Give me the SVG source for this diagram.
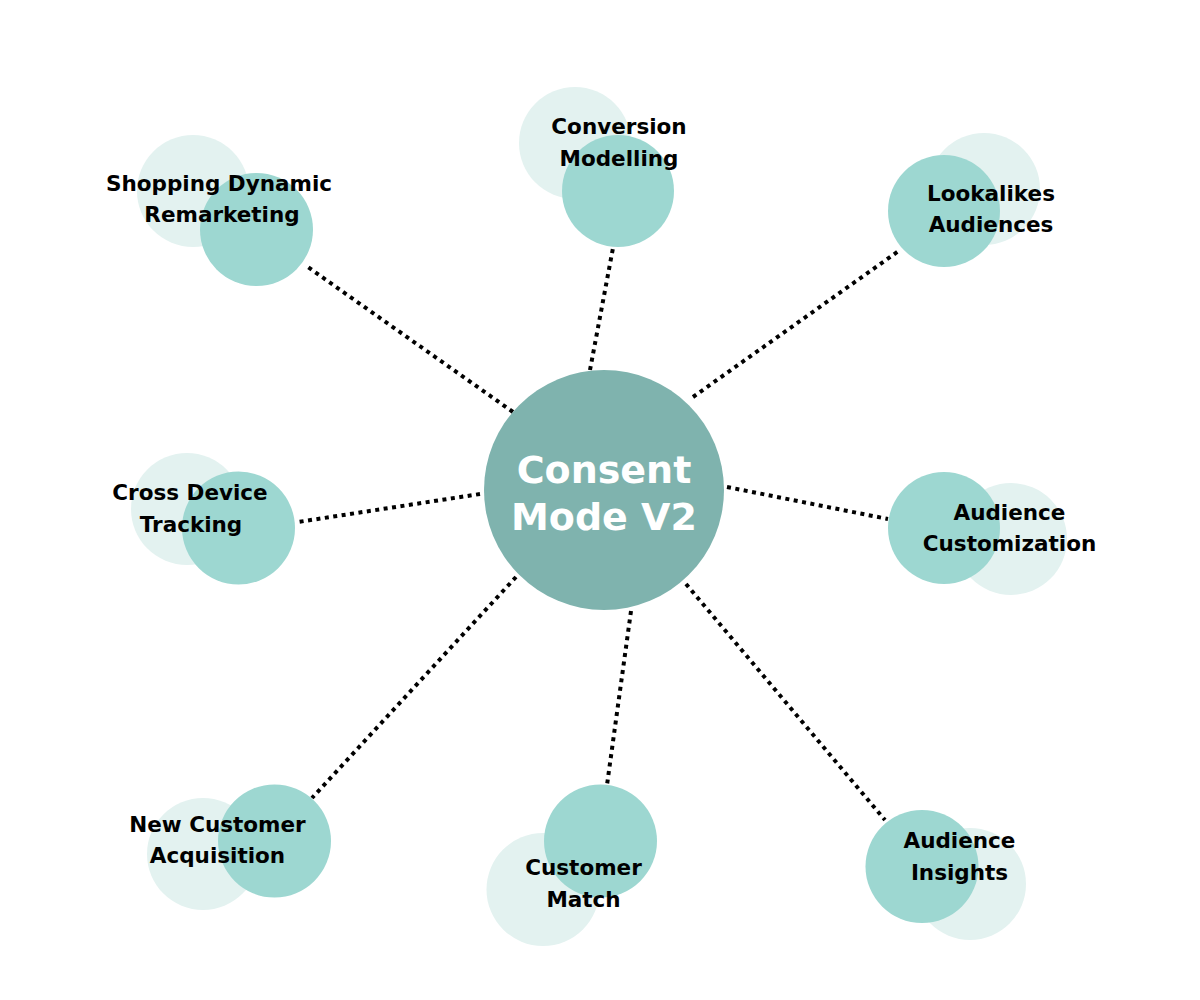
<svg xmlns="http://www.w3.org/2000/svg" width="1200" height="1000" viewBox="0 0 1200 1000">
<style>
.light{fill:#e3f2f0}
.dark{fill:#9dd7d1}
.hub{fill:#7fb3ae}
.lbl{font-family:"DejaVu Sans",sans-serif;font-weight:bold;font-size:21.5px;fill:#000;text-anchor:middle}
.hubt{font-family:"DejaVu Sans",sans-serif;font-weight:bold;font-size:38px;fill:#fff;text-anchor:middle}
.conn line{stroke:#000;stroke-width:4;stroke-dasharray:4 4.5}
</style>
<rect width="1200" height="1000" fill="#fff"/>
<g id="connectors" class="conn">
<line x1="513" y1="412" x2="305" y2="265"/>
<line x1="590" y1="370" x2="613" y2="248"/>
<line x1="693" y1="397" x2="900" y2="250"/>
<line x1="480" y1="494" x2="298" y2="522"/>
<line x1="727" y1="487" x2="888" y2="519"/>
<line x1="516" y1="577" x2="312" y2="798"/>
<line x1="631" y1="611" x2="607" y2="785"/>
<line x1="686" y1="584" x2="885" y2="820"/>
</g>
<g id="hub">
<circle class="hub" cx="604" cy="490" r="120"/>
<text class="hubt" x="604" y="483">Consent</text>
<text class="hubt" x="604" y="530">Mode V2</text>
</g>
<g id="shopping">
<circle class="light" cx="193" cy="191" r="56"/>
<circle class="dark" cx="256.5" cy="229.5" r="56.5"/>
<text class="lbl" x="219" y="191">Shopping Dynamic</text>
<text class="lbl" x="222" y="222">Remarketing</text>
</g>
<g id="conversion">
<circle class="light" cx="575" cy="143" r="56"/>
<circle class="dark" cx="618" cy="191" r="56"/>
<text class="lbl" x="619" y="134">Conversion</text>
<text class="lbl" x="619" y="166">Modelling</text>
</g>
<g id="lookalikes">
<circle class="light" cx="984" cy="189" r="56"/>
<circle class="dark" cx="944" cy="211" r="56"/>
<text class="lbl" x="991" y="201">Lookalikes</text>
<text class="lbl" x="991" y="232">Audiences</text>
</g>
<g id="crossdevice">
<circle class="light" cx="187" cy="509" r="56"/>
<circle class="dark" cx="238.5" cy="528" r="56.5"/>
<text class="lbl" x="190" y="500">Cross Device</text>
<text class="lbl" x="191" y="532">Tracking</text>
</g>
<g id="customization">
<circle class="light" cx="1011" cy="539" r="56"/>
<circle class="dark" cx="944" cy="528" r="56"/>
<text class="lbl" x="1009.5" y="520">Audience</text>
<text class="lbl" x="1009.5" y="551">Customization</text>
</g>
<g id="newcustomer">
<circle class="light" cx="203" cy="854" r="56"/>
<circle class="dark" cx="274.5" cy="841" r="56.5"/>
<text class="lbl" x="217.5" y="832">New Customer</text>
<text class="lbl" x="217.5" y="863">Acquisition</text>
</g>
<g id="customermatch">
<circle class="light" cx="543" cy="889.5" r="56.5"/>
<circle class="dark" cx="600.5" cy="841" r="56.5"/>
<text class="lbl" x="583.5" y="875">Customer</text>
<text class="lbl" x="583.5" y="907">Match</text>
</g>
<g id="insights">
<circle class="light" cx="970" cy="884" r="56"/>
<circle class="dark" cx="922" cy="866.5" r="56.5"/>
<text class="lbl" x="959.5" y="848">Audience</text>
<text class="lbl" x="959.5" y="880">Insights</text>
</g>
</svg>
